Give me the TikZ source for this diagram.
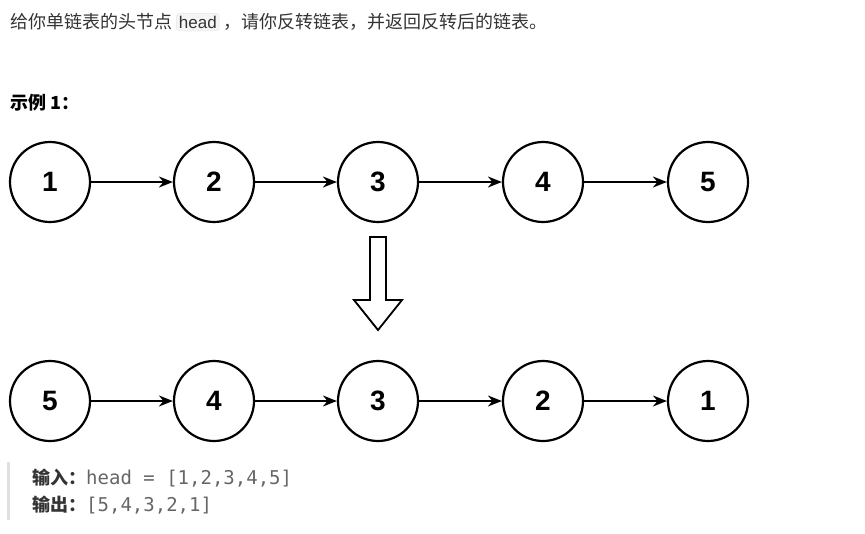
\documentclass[tikz,border=0pt]{standalone}
\usetikzlibrary{arrows.meta}
\usepackage{fontspec}
\setmainfont{Noto Sans CJK SC}
\newfontfamily\numf{Liberation Sans}
\newfontfamily\monof{DejaVu Sans Mono}
\begin{document}
\begin{tikzpicture}[x=1pt,y=-1pt,
  nd/.style={circle,draw,line width=2.2pt,minimum size=80pt,inner sep=0pt,font=\numf\bfseries\fontsize{28}{28}\selectfont},
  ar/.style={-{Stealth[length=14pt,width=11pt]},line width=1.8pt},
  txt/.style={anchor=west,inner sep=0pt,font=\fontsize{18}{20}\selectfont,text=black!80}]
\useasboundingbox (0,0) rectangle (865,533);
\node[txt] (t1) at (10,22) {给你单链表的头节点 \tikz[baseline=(h.base)]\node[fill=black!4,draw=black!10,rounded corners=3pt,inner sep=2.5pt,font=\numf\fontsize{17}{17}\selectfont](h){head}; ，请你反转链表，并返回反转后的链表。};
\node[txt,font=\bfseries\fontsize{18}{20}\selectfont,text=black] (ex) at (10,103) {示例 1：};
\foreach \v/\x [count=\i] in {1/50,2/214,3/378,4/543,5/708}{
  \node[nd] (a\i) at (\x,182) {\v};
}
\foreach \v/\x [count=\i] in {5/50,4/214,3/378,2/543,1/708}{
  \node[nd] (b\i) at (\x,401) {\v};
}
\foreach \i/\j in {1/2,2/3,3/4,4/5}{
  \draw[ar] (a\i) -- (a\j);
  \draw[ar] (b\i) -- (b\j);
}
\draw[line width=1.8pt,fill=white] (370,237) -- (386,237) -- (386,300) -- (402,300) -- (378,330) -- (354,300) -- (370,300) -- cycle;
\fill[black!12] (7,462) rectangle (9.5,520);
\node[txt] (in) at (32,478) {\textbf{输入：}{\monof\fontsize{19}{20}\selectfont\color{black!60}head = [1,2,3,4,5]}};
\node[txt] (out) at (32,505) {\textbf{输出：}{\monof\fontsize{19}{20}\selectfont\color{black!60}[5,4,3,2,1]}};
\end{tikzpicture}
\end{document}
